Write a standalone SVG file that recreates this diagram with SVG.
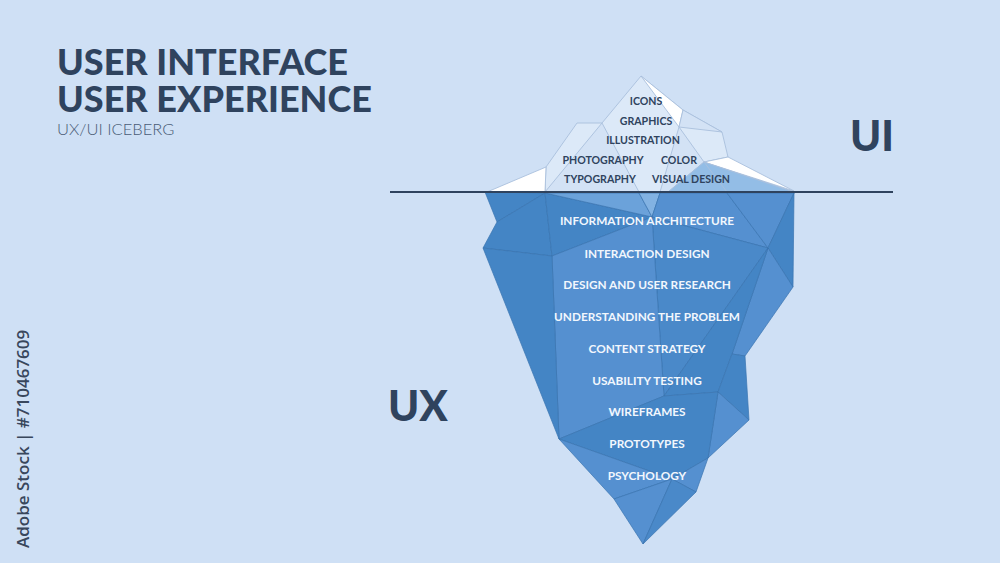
<svg xmlns="http://www.w3.org/2000/svg" width="1000" height="563" viewBox="0 0 1000 563">
<style>
text{font-family:Lato,"Open Sans",sans-serif}
.title{font-size:36px;font-weight:900;fill:#2f435e}
.up{font-size:10.6px;font-weight:700;fill:#2f435e;text-anchor:middle}
.dn{font-size:11.8px;font-weight:700;fill:#f2f7fd;text-anchor:middle}
.big{font-size:42px;font-weight:900;fill:#2f435e;text-anchor:middle}
.ice polygon,.ice polyline{stroke:#a9bfdc;stroke-width:.9;stroke-linejoin:round}
.sea polygon{stroke:#3a74b0;stroke-width:.7;stroke-linejoin:round}
.a{fill:#4485c5}.b{fill:#5590d0}.c{fill:#4a89c9}.w{fill:#fff}.p{fill:#dce9f8}.q{fill:#d3e2f5}
</style>
<rect width="1000" height="563" fill="#cfe0f5"/>
<g id="heading">
<text class="title" x="57" y="75">USER INTERFACE</text>
<text class="title" x="57" y="112">USER EXPERIENCE</text>
<text x="57" y="135" font-size="16.5" fill="#4a5c76" font-weight="300">UX/UI ICEBERG</text>
</g>
<g id="iceberg-top" class="ice">
<polygon class="p" points="641,76 602,123 577,123 546,167 545,192 794,192 704,162 728,157 722,132 683,110"/>
<polygon class="w" points="487,192 546,167 545,192"/>
<polygon class="w" points="641,76 683,110 679,127"/>
<polygon class="q" points="683,110 722,132 679,127"/>
<polygon class="q" points="602,123 639,192 545,192"/>
<polygon class="q" points="679,127 704,162 668,192 660,192"/>
<polygon class="w" points="704,162 728,157 794,191"/>
<polygon fill="#93bde6" points="704,162 794,192 668,192"/>
<polyline points="704,162 727,192" fill="none"/>
</g>
<g id="iceberg-bottom" class="sea">
<polygon class="a" points="485,192 545,193 497,222"/>
<polygon class="a" points="497,222 545,193 552,256 483,248"/>
<polygon class="a" points="545,193 652,217 552,256"/>
<polygon fill="#6ba2da" points="545,193 639,193 652,217"/>
<polygon fill="#82b2e2" points="639,193 660,193 652,217"/>
<polygon class="b" points="660,193 727,193 768,248 652,217"/>
<polygon class="b" points="727,193 794,193 768,248"/>
<polygon class="a" points="794,193 793,287 768,248"/>
<polygon class="b" points="768,248 793,287 745,356 732,354"/>
<polygon class="c" points="652,217 768,248 664,396"/>
<polygon class="b" points="552,256 652,217 664,396 559,439"/>
<polygon class="a" points="483,248 552,256 559,439"/>
<polygon class="a" points="768,248 732,354 718,392 664,396"/>
<polygon class="a" points="732,354 745,356 749,420 718,392"/>
<polygon class="b" points="718,392 749,420 708,458"/>
<polygon class="a" points="559,439 664,396 718,392 708,458 672,479"/>
<polygon class="b" points="559,439 672,479 614,499"/>
<polygon class="b" points="672,479 708,458 696,492"/>
<polygon class="b" points="614,499 672,479 643,544"/>
<polygon class="c" points="672,479 696,492 643,544"/>
</g>
<g id="waterline"><line x1="390" y1="192" x2="893" y2="192" stroke="#2f435e" stroke-width="2"/></g>
<g id="ui-labels">
<text class="up" x="646" y="105">ICONS</text>
<text class="up" x="646" y="124.500">GRAPHICS</text>
<text class="up" x="643" y="144">ILLUSTRATION</text>
<text class="up" x="603" y="164">PHOTOGRAPHY</text>
<text class="up" x="679" y="164">COLOR</text>
<text class="up" x="600" y="183">TYPOGRAPHY</text>
<text class="up" x="691" y="183">VISUAL DESIGN</text>
</g>
<g id="ux-labels">
<text class="dn" x="647" y="225">INFORMATION ARCHITECTURE</text>
<text class="dn" x="647" y="257.500">INTERACTION DESIGN</text>
<text class="dn" x="647" y="289">DESIGN AND USER RESEARCH</text>
<text class="dn" x="647" y="321">UNDERSTANDING THE PROBLEM</text>
<text class="dn" x="647" y="352.500">CONTENT STRATEGY</text>
<text class="dn" x="647" y="384.500">USABILITY TESTING</text>
<text class="dn" x="647" y="416">WIREFRAMES</text>
<text class="dn" x="647" y="448">PROTOTYPES</text>
<text class="dn" x="647" y="479.500">PSYCHOLOGY</text>
</g>
<g id="side-labels">
<text class="big" x="872" y="151">UI</text>
<text class="big" x="418" y="421">UX</text>
</g>
<text transform="translate(29,548) rotate(-90)" font-size="17" font-weight="600" fill="#39475c" style="font-family:'Open Sans',sans-serif">Adobe Stock | #710467609</text>
</svg>
